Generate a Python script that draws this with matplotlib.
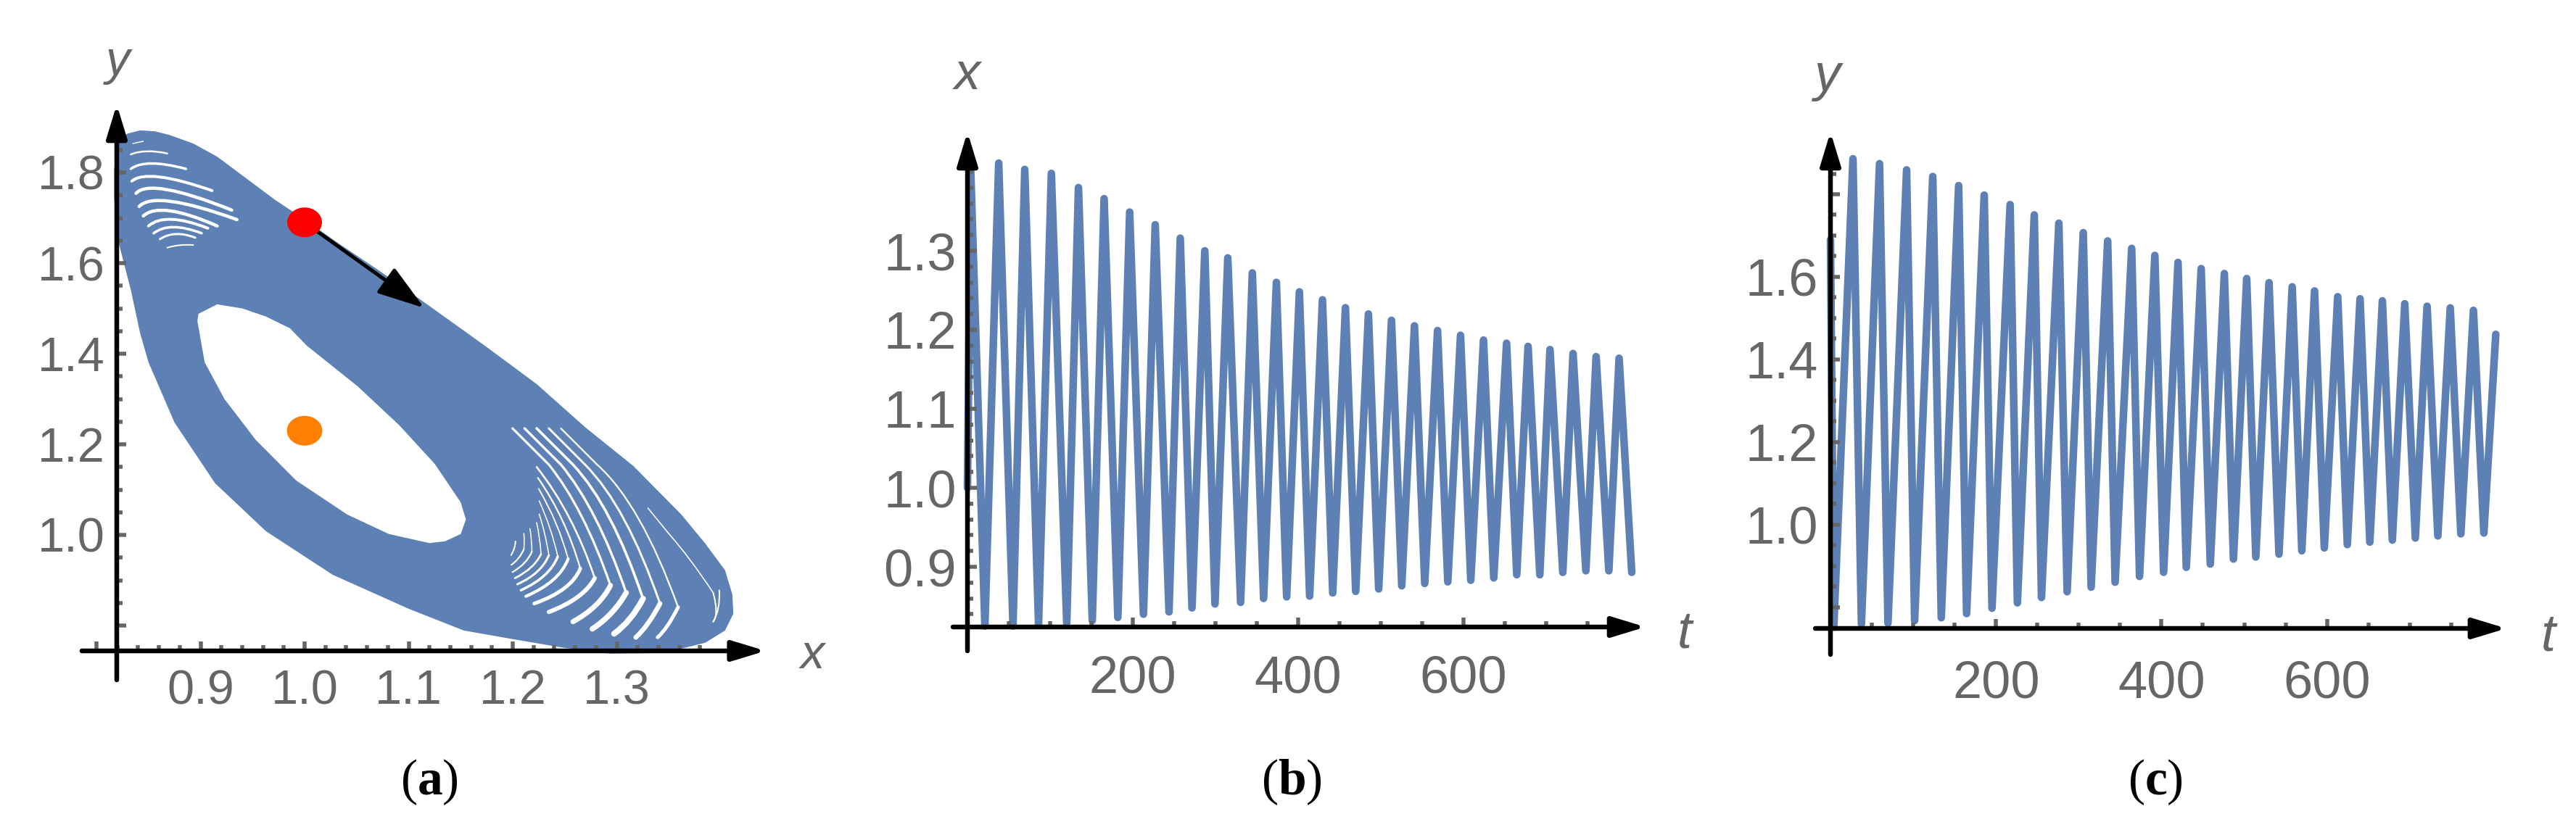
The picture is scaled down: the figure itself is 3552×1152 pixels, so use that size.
import matplotlib
matplotlib.use('Agg')
import matplotlib.pyplot as plt
from matplotlib.patches import Ellipse, PathPatch
from matplotlib.path import Path
from matplotlib.ticker import FixedLocator, FixedFormatter
import numpy as np

plt.rcParams['mathtext.fontset'] = 'custom'
plt.rcParams['mathtext.rm'] = 'Liberation Serif'
plt.rcParams['mathtext.bf'] = 'Liberation Serif:bold'

# ---------------- data: panel (a) phase portrait ----------------
outer_x = [0.817, 0.821, 0.830, 0.842, 0.856, 0.870, 0.893, 0.916, 0.944, 0.972,
           0.997, 1.033, 1.070, 1.111, 1.153, 1.176, 1.223, 1.270, 1.316, 1.362,
           1.385, 1.404, 1.411, 1.412, 1.404, 1.385, 1.362, 1.330, 1.293, 1.246,
           1.200, 1.153, 1.100, 1.027, 0.963, 0.914, 0.875, 0.850, 0.842, 0.833,
           0.821, 0.817]
outer_y = [1.808, 1.872, 1.886, 1.893, 1.891, 1.883, 1.864, 1.835, 1.787, 1.739,
           1.701, 1.643, 1.586, 1.520, 1.451, 1.413, 1.333, 1.237, 1.152, 1.045,
           0.981, 0.922, 0.869, 0.826, 0.789, 0.762, 0.749, 0.739, 0.738, 0.752,
           0.770, 0.789, 0.837, 0.912, 1.008, 1.114, 1.248, 1.381, 1.445, 1.541,
           1.648, 1.744]
hole_x = [0.898, 0.916, 0.940, 0.963, 0.986, 1.002, 1.051, 1.091, 1.125, 1.150,
          1.155, 1.150, 1.135, 1.120, 1.081, 1.041, 0.992, 0.953, 0.923, 0.904, 0.897]
hole_y = [1.488, 1.509, 1.500, 1.482, 1.456, 1.418, 1.328, 1.242, 1.157, 1.072,
          1.034, 1.002, 0.986, 0.982, 1.002, 1.045, 1.120, 1.210, 1.300, 1.381, 1.472]

# white gaps between loops, lower-right corner
gap_lr_x = [
    [1.2026, 1.2026, 1.1984],
    [1.2107, 1.2114, 1.2107, 1.2068, 1.1987],
    [1.2165, 1.2184, 1.2184, 1.2137, 1.1998],
    [1.2230, 1.2261, 1.2272, 1.2207, 1.2021],
    [1.2254, 1.2312, 1.2347, 1.2277, 1.2045],
    [1.2254, 1.2370, 1.2433, 1.2358, 1.2079],
    [1.2249, 1.2440, 1.2532, 1.2451, 1.2126],
    [1.2242, 1.2509, 1.2649, 1.2567, 1.2207],
    [1.2230, 1.2579, 1.2788, 1.2683, 1.2347],
    [1.1998, 1.2347, 1.2683, 1.2939, 1.2834, 1.2579],
    [1.2114, 1.2463, 1.2811, 1.3090, 1.2974, 1.2765],
    [1.2230, 1.2579, 1.2951, 1.3252, 1.3136, 1.2974],
    [1.2347, 1.2695, 1.3090, 1.3415, 1.3299, 1.3183],
    [1.2463, 1.2811, 1.3229, 1.3589, 1.3485, 1.3392],
    [1.3299, 1.3508, 1.3694, 1.3926, 1.3984, 1.3926],
    [1.3984, 1.3996, 1.3926],
]
gap_lr_y = [
    [0.9856, 0.9712, 0.9552],
    [1.0032, 0.9872, 0.9685, 0.9472, 0.9339],
    [1.0139, 0.9899, 0.9632, 0.9365, 0.9179],
    [1.0272, 0.9952, 0.9579, 0.9259, 0.9045],
    [1.0459, 1.0059, 0.9552, 0.9152, 0.8912],
    [1.0752, 1.0165, 0.9525, 0.9072, 0.8779],
    [1.1019, 1.0272, 0.9472, 0.8965, 0.8645],
    [1.1259, 1.0379, 0.9259, 0.8779, 0.8485],
    [1.1499, 1.0485, 0.9045, 0.8592, 0.8299],
    [1.2352, 1.1552, 1.0592, 0.8885, 0.8405, 0.8085],
    [1.2352, 1.1552, 1.0592, 0.8725, 0.8245, 0.7925],
    [1.2352, 1.1552, 1.0645, 0.8592, 0.8085, 0.7819],
    [1.2352, 1.1552, 1.0645, 0.8485, 0.7979, 0.7739],
    [1.2352, 1.1552, 1.0699, 0.8405, 0.7925, 0.7739],
    [1.0592, 1.0005, 0.9525, 0.8725, 0.8245, 0.8085],
    [0.8779, 0.8352, 0.8085],
]
gap_lr_w = [1.8, 2.0, 2.2, 2.6, 3.0, 3.5, 4.2, 5.0, 5.8, 7.0, 7.5, 8.0, 6.5, 5.0, 1.8, 1.8]

# white gaps between loops, upper-left corner
gap_ul_x = [
    [0.835, 0.845],
    [0.833, 0.847, 0.868],
    [0.833, 0.847, 0.886],
    [0.834, 0.849, 0.911],
    [0.838, 0.852, 0.930],
    [0.841, 0.856, 0.935],
    [0.845, 0.861, 0.916],
    [0.850, 0.866, 0.907],
    [0.855, 0.870, 0.901],
    [0.861, 0.875, 0.895],
    [0.868, 0.879, 0.893],
]
gap_ul_y = [
    [1.864, 1.869],
    [1.840, 1.853, 1.842],
    [1.808, 1.832, 1.808],
    [1.781, 1.810, 1.760],
    [1.754, 1.789, 1.717],
    [1.725, 1.762, 1.696],
    [1.704, 1.738, 1.682],
    [1.682, 1.714, 1.677],
    [1.666, 1.693, 1.666],
    [1.653, 1.674, 1.656],
    [1.634, 1.642, 1.640],
]
gap_ul_w = [1.5, 2.5, 3.5, 4.0, 4.5, 4.5, 4.5, 4.0, 3.5, 3.0, 2.0]

start_point = (1.0, 1.69)
arrow_end = (1.115, 1.501)
equilibrium = (1.0, 1.23)

# ---------------- data: panel (b) x(t) ----------------
x_start = (0.0, 1.0)
x_peak_t = [4, 37.8, 69.3, 101.5, 134.3, 165.3, 196.2, 227.1, 257.4, 287.1, 314.9,
            344.6, 373.7, 401.5, 429.4, 457.2, 485.0, 512.9, 540.7, 568.6, 596.4,
            624.2, 652.1, 678.1, 704.6, 732.5, 760.4, 788.2]
x_peak_v = [1.401, 1.411, 1.403, 1.398, 1.380, 1.366, 1.349, 1.333, 1.316, 1.300,
            1.291, 1.272, 1.260, 1.248, 1.238, 1.228, 1.220, 1.212, 1.205, 1.199,
            1.193, 1.187, 1.183, 1.179, 1.175, 1.170, 1.166, 1.164]
x_trough_t = [21.1, 55.1, 86.0, 120.1, 151.0, 181.9, 212.9, 243.8, 271.6, 299.4,
              330.4, 358.2, 386.1, 413.9, 441.8, 469.6, 497.4, 525.3, 553.1, 581.0,
              608.8, 636.6, 664.4, 692.3, 720.1, 748.0, 775.8]
x_trough_v = [0.825, 0.825, 0.827, 0.829, 0.832, 0.836, 0.840, 0.843, 0.848, 0.853,
              0.855, 0.860, 0.862, 0.863, 0.867, 0.869, 0.872, 0.876, 0.879, 0.881,
              0.883, 0.886, 0.890, 0.890, 0.893, 0.895, 0.895]
x_end = (803.5, 0.893)

# ---------------- data: panel (c) y(t) ----------------
y_start = (0.0, 1.69)
y_peak_t = [27.2, 59.3, 92.0, 123.6, 154.9, 185.8, 217.1, 246.3, 276, 305.5, 335,
            364, 392, 420, 448, 476, 503, 530, 558, 585, 613, 640, 667, 694, 721,
            749, 777]
y_peak_v = [1.886, 1.874, 1.859, 1.843, 1.821, 1.798, 1.775, 1.750, 1.730, 1.707,
            1.687, 1.669, 1.652, 1.635, 1.620, 1.608, 1.596, 1.586, 1.576, 1.566,
            1.552, 1.547, 1.542, 1.535, 1.529, 1.525, 1.519]
y_trough_t = [4, 37.4, 69.5, 101.7, 133.9, 164.5, 195.2, 225.9, 255, 286, 315, 344,
              373.5, 402.6, 430, 459, 487, 514, 542, 569.6, 596.8, 624.6, 651.8,
              679, 706.8, 734, 761.8, 789.6]
y_trough_v = [0.752, 0.760, 0.762, 0.768, 0.775, 0.785, 0.798, 0.811, 0.824, 0.838,
              0.849, 0.861, 0.875, 0.885, 0.897, 0.905, 0.917, 0.922, 0.929, 0.937,
              0.944, 0.952, 0.958, 0.963, 0.968, 0.973, 0.978, 0.980]
y_end = (804.0, 1.461)

# tick specs
a_xmaj = [0.8, 0.9, 1.0, 1.1, 1.2, 1.3]
a_xlab = ['', '0.9', '1.0', '1.1', '1.2', '1.3']
a_ymaj = [0.8, 1.0, 1.2, 1.4, 1.6, 1.8]
a_ylab = ['', '1.0', '1.2', '1.4', '1.6', '1.8']
b_ymaj = [0.9, 1.0, 1.1, 1.2, 1.3]
b_ylab = ['0.9', '1.0', '1.1', '1.2', '1.3']
c_ymaj = [0.8, 1.0, 1.2, 1.4, 1.6, 1.8]
c_ylab = ['', '1.0', '1.2', '1.4', '1.6', '']
t_maj = [200, 400, 600]
t_lab = ['200', '400', '600']

# ---------------- figure ----------------
W, H, DPI = 3552, 1152, 100
PT = 72.0 / DPI
BLUE = '#5E81B5'
GRAY = '#666666'
SANS = 'Liberation Sans'

fig = plt.figure(figsize=(W / DPI, H / DPI), dpi=DPI)


def px_axes(l, t, r, b):
    ax = fig.add_axes([l / W, 1 - b / H, (r - l) / W, (b - t) / H])
    ax.patch.set_alpha(0)
    return ax


def style_axes(ax, x0, y0, xa, ya, xmaj, xlab, xmin, ymaj, ylab, ymin,
               fsize, xpad, ypad):
    for s in ['top', 'right']:
        ax.spines[s].set_visible(False)
    ax.spines['bottom'].set_position(('data', y0))
    ax.spines['left'].set_position(('data', x0))
    ax.spines['bottom'].set_color('none')
    ax.spines['left'].set_color('none')
    ax.xaxis.set_major_locator(FixedLocator(xmaj))
    ax.xaxis.set_major_formatter(FixedFormatter(xlab))
    ax.xaxis.set_minor_locator(FixedLocator(xmin))
    ax.yaxis.set_major_locator(FixedLocator(ymaj))
    ax.yaxis.set_major_formatter(FixedFormatter(ylab))
    ax.yaxis.set_minor_locator(FixedLocator(ymin))
    ax.set_axisbelow(False)
    ax.tick_params(which='major', direction='in', length=13 * PT, width=5.5 * PT,
                   color=GRAY, labelcolor=GRAY, labelsize=fsize,
                   labelfontfamily=SANS)
    ax.tick_params(which='minor', direction='in', length=8 * PT, width=5.5 * PT,
                   color=GRAY)
    ax.tick_params(axis='x', which='both', pad=xpad)
    ax.tick_params(axis='y', which='both', pad=ypad)
    ap = dict(arrowstyle='-|>,head_length=28,head_width=8.5', lw=6.5 * PT,
              color='k', shrinkA=0, shrinkB=0, mutation_scale=1)
    ax.annotate('', xy=(xa[1], y0), xytext=(xa[0], y0), arrowprops=ap,
                zorder=6, annotation_clip=False)
    ax.annotate('', xy=(x0, ya[1]), xytext=(x0, ya[0]), arrowprops=ap,
                zorder=6, annotation_clip=False)


def smooth_path(xs, ys):
    pts = list(zip(xs, ys))
    n = len(pts)
    if n == 2:
        codes = [Path.MOVETO, Path.LINETO]
    elif n % 2 == 1:
        codes = [Path.MOVETO] + [Path.CURVE3] * (n - 1)
    else:
        codes = [Path.MOVETO, Path.LINETO] + [Path.CURVE3] * (n - 2)
    return Path(pts, codes)


def white_stroke(ax, xs, ys, w):
    ax.add_patch(PathPatch(smooth_path(xs, ys), fill=False, edgecolor='white',
                           lw=w * PT, capstyle='round', joinstyle='round',
                           zorder=1.5))


# ----- panel (a) -----
axA = px_axes(100, 60, 1140, 960)
axA.set_xlim(0.77700, 1.50174)
axA.set_ylim(0.64480, 2.08480)
axA.fill(outer_x, outer_y, color=BLUE, lw=0, zorder=1)
axA.fill(hole_x, hole_y, color='white', lw=0, zorder=1.2)
for gx, gy, w in zip(gap_lr_x, gap_lr_y, gap_lr_w):
    white_stroke(axA, gx, gy, max(1.6, 0.45 * w))
    white_stroke(axA, gx[-3:], gy[-3:], w)
for gx, gy, w in zip(gap_ul_x, gap_ul_y, gap_ul_w):
    white_stroke(axA, gx, gy, w)
a_xmin = list(np.round(np.arange(0.80, 1.385, 0.02), 2))
a_ymin = list(np.round(np.arange(0.80, 1.86, 0.05), 2))
style_axes(axA, 0.8195, 0.744, (0.786, 1.443), (0.680, 1.9504),
           a_xmaj, a_xlab, a_xmin, a_ymaj, a_ylab, a_ymin, 48, 18, 12)
axA.annotate('', xy=arrow_end, xytext=start_point,
             arrowprops=dict(arrowstyle='-|>,head_length=40,head_width=13',
                             lw=5 * PT, color='k', shrinkA=0, shrinkB=0,
                             mutation_scale=1), zorder=7)
axA.add_patch(Ellipse(start_point, 0.0334, 0.0656, color='#FF0000', lw=0, zorder=8))
axA.add_patch(Ellipse(equilibrium, 0.0340, 0.0656, color='#FF8000', lw=0, zorder=8))

# ----- panel (b) -----
axB = px_axes(1280, 120, 2400, 960)
axB.set_xlim(-47.368, 935.088)
axB.set_ylim(0.73670, 1.50734)
seq_b = sorted([x_start, x_end] + list(zip(x_peak_t, x_peak_v)) +
               list(zip(x_trough_t, x_trough_v)))
axB.plot([p[0] for p in seq_b], [p[1] for p in seq_b], color=BLUE,
         lw=10.5 * PT, solid_joinstyle='round', solid_capstyle='round', zorder=2)
t_min = [50, 100, 150, 250, 300, 350, 450, 500, 550, 650, 700, 750]
b_ymin = list(np.round(np.arange(0.84, 1.43, 0.02), 2))
style_axes(axB, 0.0, 0.82385, (-17.5, 820.2), (0.7936, 1.4505),
           t_maj, t_lab, t_min, b_ymaj, b_ylab, b_ymin, 52, 28, 11)

# ----- panel (c) -----
axC = px_axes(2470, 120, 3552, 960)
axC.set_xlim(-47.33, 900.96)
axC.set_ylim(0.58596, 2.05965)
seq_c = sorted([y_start, y_end] + list(zip(y_peak_t, y_peak_v)) +
               list(zip(y_trough_t, y_trough_v)))
axC.plot([p[0] for p in seq_c], [p[1] for p in seq_c], color=BLUE,
         lw=10.5 * PT, solid_joinstyle='round', solid_capstyle='round', zorder=2)
c_ymin = list(np.round(np.arange(0.80, 1.86, 0.05), 2))
style_axes(axC, 0.0, 0.74912, (-18.4, 816.8), (0.686, 1.951),
           t_maj, t_lab, t_min, c_ymaj, c_ylab, c_ymin, 52, 31, 12)


# ----- axis names and panel labels -----
def ftext(x, y, s, **kw):
    fig.text(x / W, 1 - y / H, s, **kw)


ftext(162, 103, 'y', family=SANS, style='italic', size=48, color=GRAY,
      ha='center', va='baseline')
ftext(1120, 922, 'x', family=SANS, style='italic', size=48, color=GRAY,
      ha='center', va='baseline')
ftext(1334, 123, 'x', family=SANS, style='italic', size=52, color=GRAY,
      ha='center', va='baseline')
ftext(2323, 893, 't', family=SANS, style='italic', size=52, color=GRAY,
      ha='center', va='baseline')
ftext(2519, 125, 'y', family=SANS, style='italic', size=52, color=GRAY,
      ha='center', va='baseline')
ftext(3514, 897, 't', family=SANS, style='italic', size=52, color=GRAY,
      ha='center', va='baseline')

ftext(592, 1079, r'$(\mathbf{a})$', size=50, color='k', ha='center', va='center')
ftext(1781, 1079, r'$(\mathbf{b})$', size=50, color='k', ha='center', va='center')
ftext(2972, 1079, r'$(\mathbf{c})$', size=50, color='k', ha='center', va='center')

fig.savefig('out.png', dpi=DPI)
